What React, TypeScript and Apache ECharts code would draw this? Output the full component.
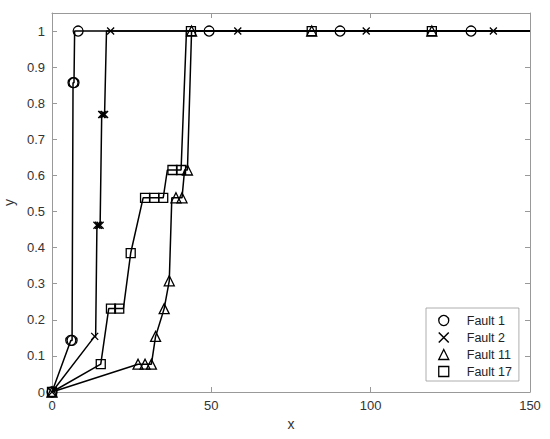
import React, { useEffect, useRef } from 'react';
import * as echarts from 'echarts';

const seriesNames = ['Fault 1', 'Fault 2', 'Fault 11', 'Fault 17'];

const fault1X = [0, 5.9, 6.3, 6.6, 6.9, 7.1, 8.2, 49.3, 90.4, 131.5, 150];
const fault1Y = [0, 0.143, 0.143, 0.857, 0.857, 1, 1, 1, 1, 1, 1];
const fault1Plain = [5, 10];

const fault2X = [0, 13.4, 13.7, 14.1, 14.6, 15.1, 15.6, 16.0, 16.5, 17.1, 18.4, 58.3, 98.6, 138.5, 150];
const fault2Y = [0, 0.154, 0.154, 0.462, 0.462, 0.462, 0.769, 0.769, 0.769, 1, 1, 1, 1, 1, 1];
const fault2Plain = [2, 9, 14];

const fault11X = [0, 27.0, 29.2, 31.2, 32.5, 35.2, 36.8, 37.6, 38.9, 40.8, 41.6, 42.5, 43.8, 81.5, 119.2, 150];
const fault11Y = [0, 0.077, 0.077, 0.077, 0.154, 0.231, 0.308, 0.538, 0.538, 0.538, 0.615, 0.615, 1, 1, 1, 1];
const fault11Plain = [7, 10, 15];

const fault17X = [0, 15.3, 17.8, 18.5, 21.1, 22.4, 24.7, 28.6, 29.2, 32.1, 34.9, 36.2, 37.8, 40.5, 42.2, 43.6, 81.5, 119.2, 150];
const fault17Y = [0, 0.077, 0.231, 0.231, 0.231, 0.231, 0.385, 0.538, 0.538, 0.538, 0.538, 0.615, 0.615, 0.615, 1, 1, 1, 1, 1];
const fault17Plain = [2, 5, 7, 11, 14, 18];

const xTickStep = 50;
const yTickStep = 0.1;

const FONT = '"Liberation Sans", Arial, Helvetica, sans-serif';
const CROSS = 'path://M0,0L10,10M10,0L0,10';

function buildData(xs: number[], ys: number[], plain: number[]) {
  return xs.map((x, i) => {
    const item: any = { value: [x, ys[i]] };
    if (plain.includes(i)) item.symbol = 'none';
    return item;
  });
}

const hollow = { color: 'transparent', borderColor: '#000', borderWidth: 1.3 };

export default function App() {
  const ref = useRef<HTMLDivElement>(null);
  useEffect(() => {
    document.body.style.margin = '0';
    const chart = echarts.init(ref.current!, undefined, { renderer: 'svg' });
    const axisLine = { show: true, onZero: false, lineStyle: { color: '#999', width: 1 } };
    const axisTick = { show: true, inside: true, length: 5, lineStyle: { color: '#999' } };
    const labelStyle = { color: '#333', fontSize: 13, fontFamily: FONT };
    const mk = (name: string, xs: number[], ys: number[], plain: number[], symbol: string, size: number) => ({
      name,
      type: 'line',
      xAxisIndex: 0,
      yAxisIndex: 0,
      data: buildData(xs, ys, plain),
      symbol,
      symbolSize: size,
      showSymbol: true,
      clip: false,
      lineStyle: { color: '#000', width: 1.5 },
      itemStyle: hollow,
      emphasis: { disabled: true },
    });
    chart.setOption({
      animation: false,
      backgroundColor: '#fff',
      grid: { left: 52, right: 20, top: 13, bottom: 47, containLabel: false, outerBoundsMode: 'none' },
      xAxis: [
        {
          type: 'value', min: 0, max: 150, interval: xTickStep, position: 'bottom',
          axisLine, axisTick, splitLine: { show: false },
          axisLabel: { ...labelStyle, margin: 7 },
          name: 'x', nameLocation: 'middle', nameGap: 24,
          nameTextStyle: { color: '#333', fontSize: 14, fontFamily: FONT },
        },
        {
          type: 'value', min: 0, max: 150, interval: xTickStep, position: 'top',
          axisLine, axisTick, splitLine: { show: false }, axisLabel: { show: false },
        },
      ],
      yAxis: [
        {
          type: 'value', min: 0, max: 1.05, interval: yTickStep, position: 'left',
          axisLine, axisTick, splitLine: { show: false },
          axisLabel: { ...labelStyle, margin: 7, showMaxLabel: false },
          name: 'y', nameLocation: 'middle', nameGap: 32,
          nameTextStyle: { color: '#333', fontSize: 14, fontFamily: FONT },
        },
        {
          type: 'value', min: 0, max: 1.05, interval: yTickStep, position: 'right',
          axisLine, axisTick, splitLine: { show: false }, axisLabel: { show: false },
        },
      ],
      legend: {
        orient: 'vertical',
        left: 426,
        top: 308,
        itemWidth: 10,
        itemHeight: 10,
        itemGap: 4,
        padding: [6, 7, 3, 12],
        borderColor: '#999',
        borderWidth: 0.8,
        backgroundColor: '#fff',
        textStyle: { color: '#222', fontSize: 12.5, lineHeight: 13, fontFamily: FONT, padding: [0, 0, 0, 13] },
        data: [
          { name: seriesNames[0], icon: 'circle', itemStyle: hollow },
          { name: seriesNames[1], icon: CROSS, itemStyle: { ...hollow, borderWidth: 1.5 } },
          { name: seriesNames[2], icon: 'triangle', itemStyle: hollow },
          { name: seriesNames[3], icon: 'rect', itemStyle: hollow },
        ],
        selectedMode: false,
      },
      series: [
        mk(seriesNames[0], fault1X, fault1Y, fault1Plain, 'circle', 10),
        mk(seriesNames[1], fault2X, fault2Y, fault2Plain, CROSS, 7),
        mk(seriesNames[2], fault11X, fault11Y, fault11Plain, 'triangle', 10),
        mk(seriesNames[3], fault17X, fault17Y, fault17Plain, 'rect', 9),
      ],
    });
    return () => chart.dispose();
  }, []);
  return <div ref={ref} style={{ width: 550, height: 439 }} />;
}
